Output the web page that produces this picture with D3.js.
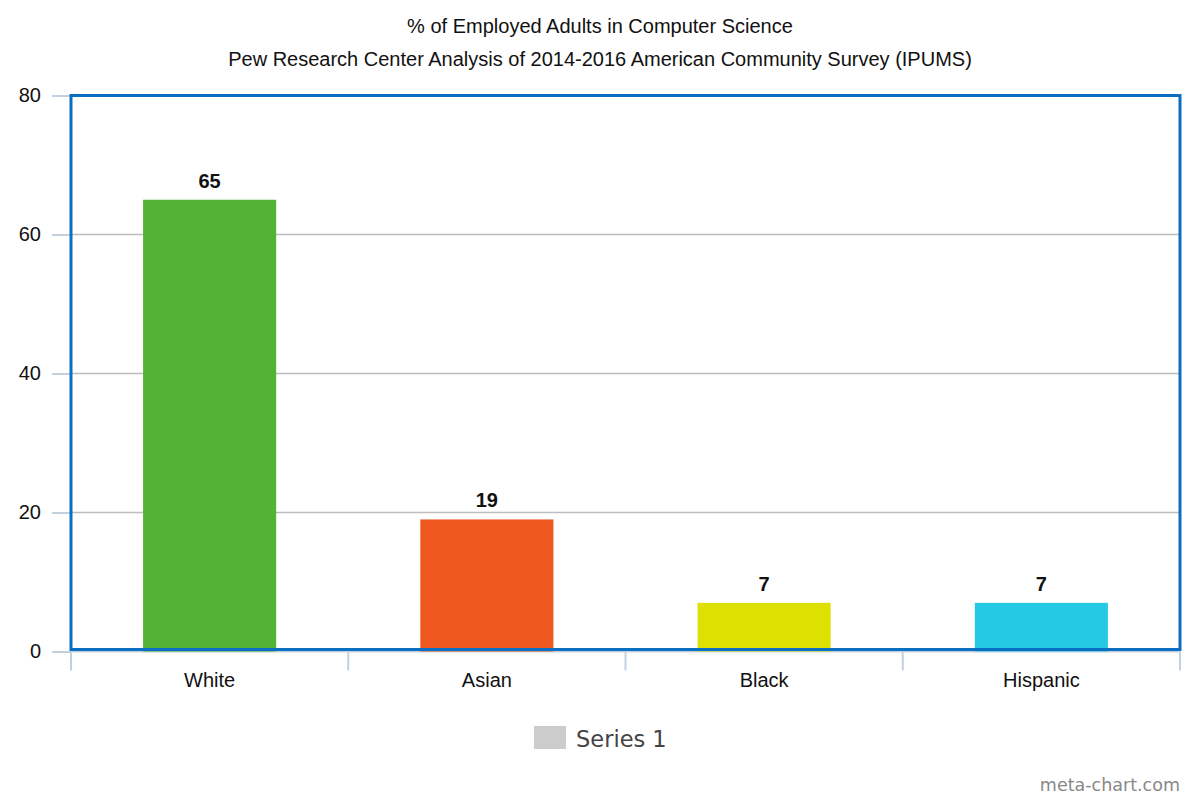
<!DOCTYPE html>
<html><head><meta charset="utf-8">
<script src="https://cdn.jsdelivr.net/npm/d3@7"></script>
<style>body{margin:0;background:#fff}svg{display:block}</style>
</head><body>
<svg id="c" width="1200" height="800"></svg>
<script>
const titleLines = ["% of Employed Adults in Computer Science", "Pew Research Center Analysis of 2014-2016 American Community Survey (IPUMS)"];
const categories = ["White", "Asian", "Black", "Hispanic"];
const values = [65, 19, 7, 7];
const barColors = ["#52b335", "#ee571e", "#dde000", "#26c9e3"];
const yTicks = [0, 20, 40, 60, 80];
const seriesName = "Series 1";
const watermark = "meta-chart.com";

const svg = d3.select("#c");
const L = 71, R = 1180, T = 95.5, B = 651.5;
const x = d3.scaleBand().domain(categories).range([L, R]).paddingInner(0.52).paddingOuter(0.26);
const xb = d3.scaleBand().domain(categories).range([L, R]);
const y = d3.scaleLinear().domain([0, 80]).range([B, T]);
const font = "Liberation Sans, Arial, sans-serif";

// title
svg.selectAll("text.title").data(titleLines).join("text")
  .attr("x", 600).attr("y", (d, i) => 33 + i * 33)
  .attr("text-anchor", "middle").attr("font-family", font).attr("font-size", 20).attr("fill", "#111")
  .text(d => d);

// gridlines
svg.append("g").selectAll("line").data(yTicks.filter(d => d > 0 && d < 80)).join("line")
  .attr("x1", L).attr("x2", R).attr("y1", d => y(d)).attr("y2", d => y(d))
  .attr("stroke", "#bdbdbd").attr("stroke-width", 1.5);

// y axis
const ya = svg.append("g").attr("transform", `translate(${L},0)`)
  .call(d3.axisLeft(y).tickValues(yTicks).tickSize(19).tickPadding(11));
ya.select(".domain").remove();
ya.selectAll(".tick line").attr("stroke", "#c3d0df").attr("stroke-width", 2);
ya.selectAll(".tick text").attr("font-family", font).attr("font-size", 20).attr("fill", "#111");

// x axis
const xa = svg.append("g").attr("transform", `translate(0,${B})`);
xa.append("line").attr("x1", L).attr("x2", R).attr("y1", 0).attr("y2", 0).attr("stroke", "#c3d0df").attr("stroke-width", 2);
const bounds = categories.map(c => xb(c)).concat([R]);
xa.selectAll("line.tk").data(bounds).join("line").attr("class", "tk")
  .attr("x1", d => d).attr("x2", d => d).attr("y1", 0).attr("y2", 19)
  .attr("stroke", "#c3d0df").attr("stroke-width", 2);
xa.selectAll("text").data(categories).join("text")
  .attr("x", d => xb(d) + xb.bandwidth() / 2).attr("y", 35)
  .attr("text-anchor", "middle").attr("font-family", font).attr("font-size", 20).attr("fill", "#111")
  .text(d => d);

// bars
svg.append("g").selectAll("rect").data(values).join("rect")
  .attr("x", (d, i) => x(categories[i])).attr("width", x.bandwidth())
  .attr("y", d => y(d)).attr("height", d => B - y(d))
  .attr("fill", (d, i) => barColors[i]);

// value labels
svg.append("g").selectAll("text").data(values).join("text")
  .attr("x", (d, i) => x(categories[i]) + x.bandwidth() / 2)
  .attr("y", d => y(d) - 12)
  .attr("text-anchor", "middle").attr("font-family", font).attr("font-size", 20).attr("font-weight", "bold").attr("fill", "#111")
  .text(d => d);

// plot border
svg.append("rect").attr("x", L).attr("y", T).attr("width", R - L).attr("height", B - 2 - T)
  .attr("fill", "none").attr("stroke", "#0a6fc2").attr("stroke-width", 3);

// legend
const lg = svg.append("g");
lg.append("rect").attr("x", 534).attr("y", 726).attr("width", 32).attr("height", 23).attr("fill", "#cccccc");
lg.append("text").attr("x", 576).attr("y", 747).attr("font-family", "DejaVu Sans, sans-serif").attr("font-size", 22.5).attr("fill", "#444").text(seriesName);

// watermark
svg.append("text").attr("x", 1180).attr("y", 791).attr("text-anchor", "end")
  .attr("font-family", "DejaVu Sans, sans-serif").attr("font-size", 17.5).attr("fill", "#888").text(watermark);
</script>
</body></html>
